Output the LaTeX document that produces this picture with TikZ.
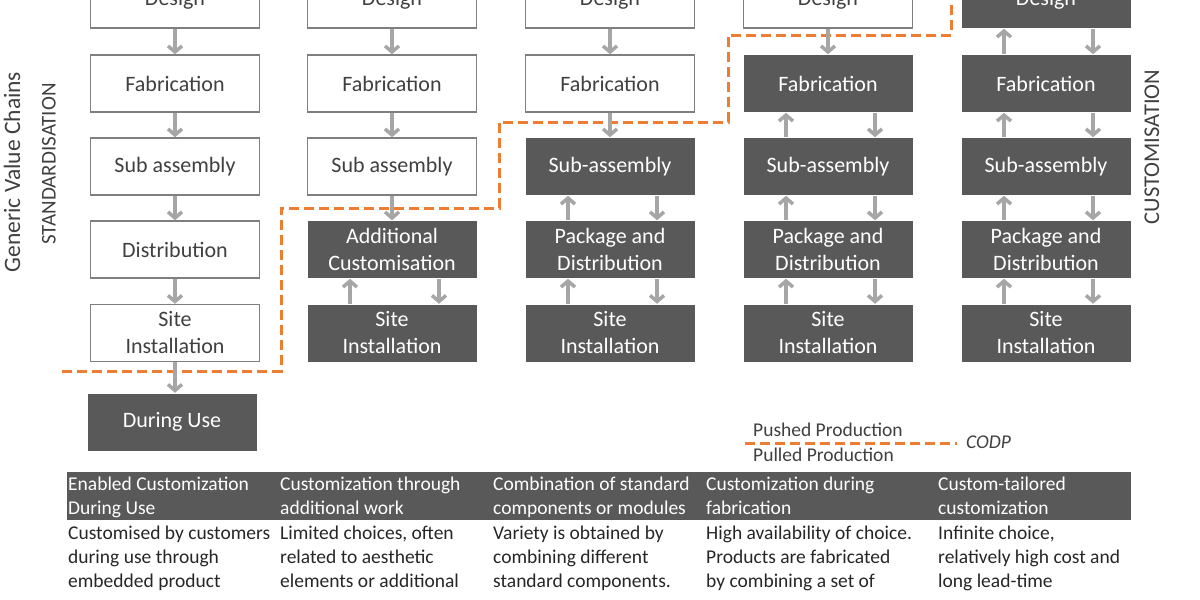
\documentclass[tikz,border=0pt]{standalone}
\usepackage{fontspec}
\setmainfont{Carlito}
\usetikzlibrary{arrows.meta}
\definecolor{boxgrey}{HTML}{595959}
\definecolor{linegrey}{HTML}{7F7F7F}
\definecolor{arrowgrey}{HTML}{A6A6A6}
\definecolor{codporange}{HTML}{ED7D31}
\definecolor{textgrey}{HTML}{404040}
\definecolor{bodygrey}{HTML}{262626}
\tikzstyle{stage}=[draw=linegrey, line width=1.5pt, fill=white, text=textgrey, minimum width=169pt, minimum height=57pt, inner sep=0pt, align=center, font=\fontsize{22}{27}\selectfont]
\tikzstyle{pulled}=[stage, draw=none, fill=boxgrey, text=white]
\tikzstyle{flow}=[arrowgrey, line width=3.5pt, -{Straight Barb[length=6pt,width=14pt]}]
\tikzstyle{codp}=[codporange, line width=3pt, dash pattern=on 10pt off 5pt]
\tikzstyle{cell}=[anchor=north west, inner sep=0pt, align=left, font=\fontsize{19.5}{24}\selectfont]
\tikzstyle{side}=[rotate=90, inner sep=0pt, text=textgrey]

\begin{document}
\begin{tikzpicture}[x=1pt, y=-1pt]
\clip (0,0) rectangle (1200,600);
% Enabled customisation during use
    \node[stage] (c1des) at (175,-0.5) {Design};
    \node[stage] (c1fab) at (175,83.5) {Fabrication};
    \node[stage] (c1sub) at (175,166.5) {Sub assembly};
    \node[stage] (c1dis) at (175,249.5) {Distribution};
    \node[stage] (c1site) at (175,333) {Site\\Installation};
    \node[pulled] (c1use) at (172,422) {During Use};
% Customisation through additional work
    \node[stage] (c2des) at (392,-0.5) {Design};
    \node[stage] (c2fab) at (392,83.5) {Fabrication};
    \node[stage] (c2sub) at (392,166.5) {Sub assembly};
    \node[pulled] (c2add) at (392,249.5) {Additional\\Customisation};
    \node[pulled] (c2site) at (392,333) {Site\\Installation};
% Combination of standard components
    \node[stage] (c3des) at (610,-0.5) {Design};
    \node[stage] (c3fab) at (610,83.5) {Fabrication};
    \node[pulled] (c3sub) at (610,166.5) {Sub-assembly};
    \node[pulled] (c3pkg) at (610,249.5) {Package and\\Distribution};
    \node[pulled] (c3site) at (610,333) {Site\\Installation};
% Customisation during fabrication
    \node[stage] (c4des) at (828,-0.5) {Design};
    \node[pulled] (c4fab) at (828,83.5) {Fabrication};
    \node[pulled] (c4sub) at (828,166.5) {Sub-assembly};
    \node[pulled] (c4pkg) at (828,249.5) {Package and\\Distribution};
    \node[pulled] (c4site) at (828,333) {Site\\Installation};
% Custom-tailored
    \node[pulled] (c5des) at (1046,-0.5) {Design};
    \node[pulled] (c5fab) at (1046,83.5) {Fabrication};
    \node[pulled] (c5sub) at (1046,166.5) {Sub-assembly};
    \node[pulled] (c5pkg) at (1046,249.5) {Package and\\Distribution};
    \node[pulled] (c5site) at (1046,333) {Site\\Installation};
% Decoupling point
    \draw[codp] (62,371) -- (281,371) -- (281,208) -- (499,208) -- (499,122)
        -- (728,122) -- (728,35) -- (951,35) -- (951,-10);
% Pushed flow
    \draw[flow] (c1des) -- (c1fab);
    \draw[flow] (c1fab) -- (c1sub);
    \draw[flow] (c1sub) -- (c1dis);
    \draw[flow] (c1dis) -- (c1site);
    \draw[flow] (c1site) -- (c1site |- c1use.north);
    \draw[flow] (c2des) -- (c2fab);
    \draw[flow] (c2fab) -- (c2sub);
    \draw[flow] (c2sub) -- (c2add);
    \draw[flow] (c3des) -- (c3fab);
    \draw[flow] (c3fab) -- (c3sub);
    \draw[flow] (c4des) -- (c4fab);
% Pulled flow, up on the left and down on the right
    \draw[flow] ([xshift=-42pt]c2site.north) -- ([xshift=-42pt]c2add.south);
    \draw[flow] ([xshift=47pt]c2add.south) -- ([xshift=47pt]c2site.north);
    \draw[flow] ([xshift=-42pt]c3pkg.north) -- ([xshift=-42pt]c3sub.south);
    \draw[flow] ([xshift=47pt]c3sub.south) -- ([xshift=47pt]c3pkg.north);
    \draw[flow] ([xshift=-42pt]c3site.north) -- ([xshift=-42pt]c3pkg.south);
    \draw[flow] ([xshift=47pt]c3pkg.south) -- ([xshift=47pt]c3site.north);
    \draw[flow] ([xshift=-42pt]c4sub.north) -- ([xshift=-42pt]c4fab.south);
    \draw[flow] ([xshift=47pt]c4fab.south) -- ([xshift=47pt]c4sub.north);
    \draw[flow] ([xshift=-42pt]c4pkg.north) -- ([xshift=-42pt]c4sub.south);
    \draw[flow] ([xshift=47pt]c4sub.south) -- ([xshift=47pt]c4pkg.north);
    \draw[flow] ([xshift=-42pt]c4site.north) -- ([xshift=-42pt]c4pkg.south);
    \draw[flow] ([xshift=47pt]c4pkg.south) -- ([xshift=47pt]c4site.north);
    \draw[flow] ([xshift=-42pt]c5fab.north) -- ([xshift=-42pt]c5des.south);
    \draw[flow] ([xshift=47pt]c5des.south) -- ([xshift=47pt]c5fab.north);
    \draw[flow] ([xshift=-42pt]c5sub.north) -- ([xshift=-42pt]c5fab.south);
    \draw[flow] ([xshift=47pt]c5fab.south) -- ([xshift=47pt]c5sub.north);
    \draw[flow] ([xshift=-42pt]c5pkg.north) -- ([xshift=-42pt]c5sub.south);
    \draw[flow] ([xshift=47pt]c5sub.south) -- ([xshift=47pt]c5pkg.north);
    \draw[flow] ([xshift=-42pt]c5site.north) -- ([xshift=-42pt]c5pkg.south);
    \draw[flow] ([xshift=47pt]c5pkg.south) -- ([xshift=47pt]c5site.north);
% Side labels
    \node[side, font=\fontsize{23.5}{28}\selectfont] (generic) at (12,172) {Generic Value Chains};
    \node[side, font=\fontsize{21}{25}\selectfont] (standard) at (49,164) {STANDARDISATION};
    \node[side, font=\fontsize{22.5}{27}\selectfont] (custom) at (1152,147) {CUSTOMISATION};
% Legend
    \coordinate (lgleft) at (745,443);
    \coordinate (lgright) at (957,443);
    \draw[codp] (lgleft) -- (lgright);
    \node[anchor=west, inner sep=0pt, text=textgrey, font=\fontsize{19.5}{24}\selectfont] (lgpush) at (753,430) {Pushed Production};
    \node[anchor=west, inner sep=0pt, text=textgrey, font=\fontsize{19.5}{24}\selectfont] (lgpull) at (753,455) {Pulled Production};
    \node[anchor=west, inner sep=0pt, text=textgrey, font=\fontsize{19.5}{24}\selectfont\itshape] (lgcodp) at (966,442) {CODP};
% Table
    \fill[boxgrey] (67,472) rectangle (1131,520);
    \node[cell, text=white] (h1) at (68,477) {Enabled Customization\\During Use};
    \node[cell, text=white] (h2) at (280,477) {Customization through\\additional work};
    \node[cell, text=white] (h3) at (493,477) {Combination of standard\\components or modules};
    \node[cell, text=white] (h4) at (706,477) {Customization during\\fabrication};
    \node[cell, text=white] (h5) at (938,477) {Custom-tailored\\customization};
    \node[cell, text=bodygrey] (b1) at (68,526) {Customised by customers\\during use through\\embedded product};
    \node[cell, text=bodygrey] (b2) at (280,526) {Limited choices, often\\related to aesthetic\\elements or additional};
    \node[cell, text=bodygrey] (b3) at (493,526) {Variety is obtained by\\combining different\\standard components.};
    \node[cell, text=bodygrey] (b4) at (706,526) {High availability of choice.\\Products are fabricated\\by combining a set of};
    \node[cell, text=bodygrey] (b5) at (938,526) {Infinite choice,\\relatively high cost and\\long lead-time};
\end{tikzpicture}
\end{document}
